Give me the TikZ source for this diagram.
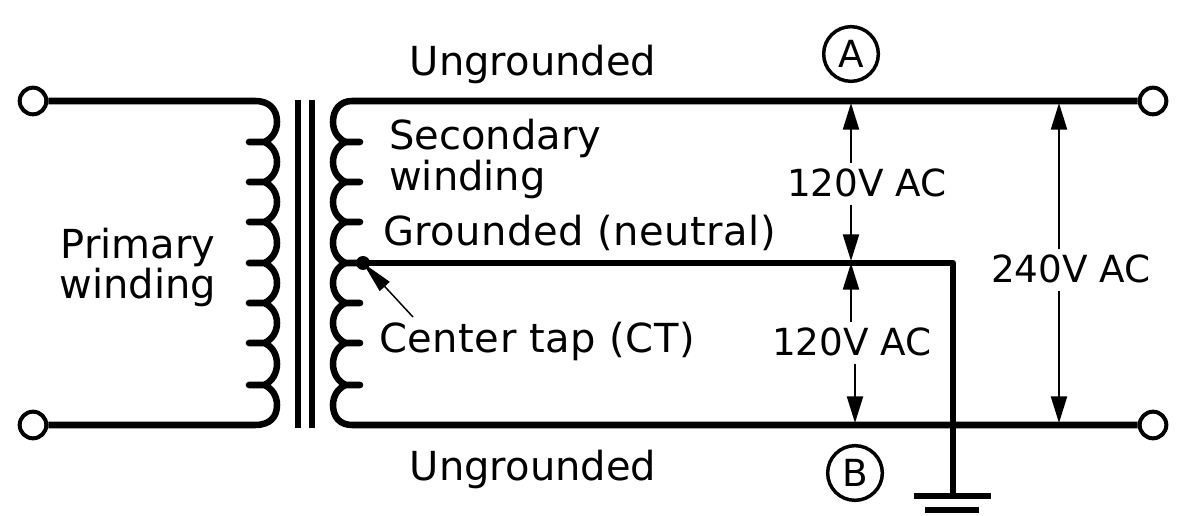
\documentclass[tikz,border=0pt]{standalone}
\usepackage{fontspec}
\setmainfont{DejaVu Sans}
\usetikzlibrary{arrows.meta}
\tikzset{
  wire/.style={line width=4.9pt, line join=round},
  thinwire/.style={line width=1.1pt},
  volt/.style={line width=1.7pt, -{Triangle[length=20pt,width=12pt]}},
  terminal/.style={draw, circle, line width=3pt, fill=white, inner sep=0pt, minimum size=20pt},
  phase/.style={draw, circle, line width=2.6pt, inner sep=0pt, minimum size=41pt, font=\fontsize{28}{28}\selectfont},
  lbl/.style={inner sep=0pt, font=\fontsize{30}{30}\selectfont, text height=22pt, text depth=2.5pt},
  widelbl/.style={lbl, font=\fontsize{30}{30}\selectfont\addfontfeature{LetterSpace=1.3}},
  gap/.style={lbl, font=\fontsize{28}{28}\selectfont, inner ysep=3pt}
}
\begin{document}
\begin{tikzpicture}[x=0.75pt,y=0.75pt,yscale=-1,xscale=1]
    \useasboundingbox (0,0) rectangle (1199,516);

    %Junction points
    \coordinate (lcoiltop) at (255,101);
    \coordinate (lcoilbot) at (255,425);
    \coordinate (rcoiltop) at (352,101);
    \coordinate (rcoilbot) at (352,425);
    \coordinate (ctap) at (363,263);
    \coordinate (gndcorner) at (953,263);
    \coordinate (gndend) at (953,496);
    \coordinate (va1) at (851,103);
    \coordinate (va2) at (851,261);
    \coordinate (vb1) at (851,263);
    \coordinate (vb2) at (855,423);
    \coordinate (vc1) at (1059,103);
    \coordinate (vc2) at (1059,423);
    \coordinate (barone1) at (914,496);
    \coordinate (barone2) at (991,496);
    \coordinate (bartwo1) at (925,510);
    \coordinate (bartwo2) at (979,510);
    \coordinate (bartop) at (298,100);
    \coordinate (barbot) at (298,428);
    \coordinate (bartop2) at (312,100);
    \coordinate (barbot2) at (312,428);
    \coordinate (ctarrow) at (413,317);

    %Terminals
    \draw (33,101) node [terminal] (tl) {};
    \draw (33,425) node [terminal] (bl) {};
    \draw (1153,101) node [terminal] (tr) {};
    \draw (1153,425) node [terminal] (br) {};

    %Primary coil
    \draw [wire] (tl) -- (lcoiltop) .. controls (270,101) and (277,110) .. (277,122) .. controls (277,131) and (272,139) .. (264,142) -- (249,142) -- (264,142)
      .. controls (272,145) and (277,153) .. (277,162) .. controls (277,171) and (272,179) .. (264,182) -- (249,182) -- (264,182)
      .. controls (272,185) and (277,193) .. (277,202) .. controls (277,211) and (272,219) .. (264,222) -- (249,222) -- (264,222)
      .. controls (272,225) and (277,233) .. (277,243) .. controls (277,252) and (272,260) .. (264,263) -- (249,263) -- (264,263)
      .. controls (272,266) and (277,274) .. (277,283) .. controls (277,292) and (272,300) .. (264,303) -- (249,303) -- (264,303)
      .. controls (272,306) and (277,314) .. (277,323) .. controls (277,332) and (272,340) .. (264,343) -- (249,343) -- (264,343)
      .. controls (272,346) and (277,354) .. (277,364) .. controls (277,373) and (272,382) .. (264,385) -- (249,385) -- (264,385)
      .. controls (272,388) and (277,396) .. (277,405) .. controls (277,417) and (270,425) .. (lcoilbot) -- (bl);

    %Core
    \draw [wire] (bartop) -- (barbot);
    \draw [wire] (bartop2) -- (barbot2);

    %Secondary coil
    \draw [wire] (tr) -- (rcoiltop) .. controls (340,101) and (333,110) .. (333,122) .. controls (333,131) and (338,139) .. (346,142) -- (360,142) -- (346,142)
      .. controls (338,145) and (333,153) .. (333,162) .. controls (333,171) and (338,179) .. (346,182) -- (360,182) -- (346,182)
      .. controls (338,185) and (333,193) .. (333,202) .. controls (333,211) and (338,219) .. (346,222) -- (360,222) -- (346,222)
      .. controls (338,225) and (333,233) .. (333,243) .. controls (333,252) and (338,260) .. (346,263) -- (ctap) -- (346,263)
      .. controls (338,266) and (333,274) .. (333,283) .. controls (333,292) and (338,300) .. (346,303) -- (360,303) -- (346,303)
      .. controls (338,306) and (333,314) .. (333,323) .. controls (333,332) and (338,340) .. (346,343) -- (360,343) -- (346,343)
      .. controls (338,346) and (333,354) .. (333,364) .. controls (333,373) and (338,382) .. (346,385) -- (360,385) -- (346,385)
      .. controls (338,388) and (333,396) .. (333,405) .. controls (333,417) and (340,425) .. (rcoilbot) -- (br);

    %Center tap and ground
    \fill (ctap) circle (7);
    \draw [wire] (ctap) -- (gndcorner) -- (gndend);
    \draw [wire] (barone1) -- (barone2);
    \draw [wire] (bartwo1) -- (bartwo2);

    % Text Node
    \draw (533,63) node [lbl] (ungtop) {Ungrounded};
    % Text Node
    \draw (533,467) node [lbl] (ungbot) {Ungrounded};
    % Text Node
    \draw (138,246) node [lbl] (pri1) {Primary};
    % Text Node
    \draw (138,286) node [lbl] (pri2) {winding};
    % Text Node
    \draw (389,137) node [lbl,anchor=west] (sec1) {Secondary};
    % Text Node
    \draw (389,178) node [lbl,anchor=west] (sec2) {winding};
    % Text Node
    \draw (383,233) node [widelbl,anchor=west] (neutral) {Grounded (neutral)};
    % Text Node
    \draw (379,340) node [widelbl,anchor=west] (ctlabel) {Center tap (CT)};
    % Text Node
    \draw (867,184) node [gap] (v120a) {120V AC};
    % Text Node
    \draw (852,343) node [gap] (v120b) {120V AC};
    % Text Node
    \draw (1071,270) node [gap] (v240) {240V AC};
    % Text Node
    \draw (851,54) node [phase] (phasea) {A};
    % Text Node
    \draw (855,473) node [phase] (phaseb) {B};

    %Voltage arrows
    \draw [volt] (v120a.north -| va1) -- (va1);
    \draw [volt] (v120a.south -| va2) -- (va2);
    \draw [volt] (v120b.north -| vb1) -- (vb1);
    \draw [volt] (v120b.south -| vb2) -- (vb2);
    \draw [volt] (v240.north -| vc1) -- (vc1);
    \draw [volt] (v240.south -| vc2) -- (vc2);

    %Center tap pointer
    \draw [thinwire,-{Triangle[length=24pt,width=10pt]}] (ctarrow) -- (ctap);
\end{tikzpicture}
\end{document}
